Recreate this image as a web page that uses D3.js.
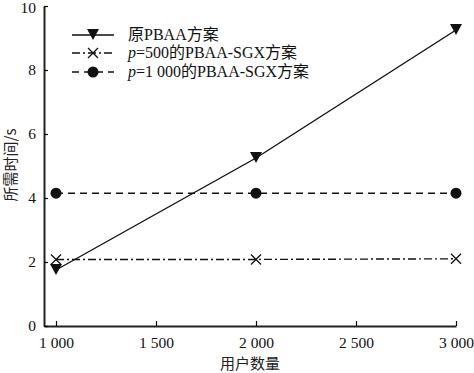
<!DOCTYPE html>
<html><head><meta charset="utf-8">
<script src="https://cdn.jsdelivr.net/npm/d3@7"></script>
<style>body{margin:0;background:#fff}svg{display:block}</style>
</head><body>
<script>
const users = [1000, 2000, 3000];
const seriesNames = ["原PBAA方案", "p=500的PBAA-SGX方案", "p=1 000的PBAA-SGX方案"];
const pbaa = [1.75, 5.25, 9.25];
const sgx500 = [2.08, 2.08, 2.1];
const sgx1000 = [4.15, 4.15, 4.15];
const xTicks = [1000, 1500, 2000, 2500, 3000];
const yTicks = [0, 2, 4, 6, 8, 10];
const xTitle = "用户数量";
const yTitle = "所需时间/s";

const W = 474, H = 373;
const SERIF = '"Liberation Serif", "Noto Sans CJK SC"';
const CJK = '"Noto Sans CJK SC"';
const svg = d3.select("body").append("svg").attr("width", W).attr("height", H);
const x = d3.scaleLinear().domain([940, 3000]).range([44, 456]);
const y = d3.scaleLinear().domain([0, 10]).range([326, 6]);

const fmtX = d => { const s = String(d); return s.length > 3 ? s.slice(0, s.length-3) + " " + s.slice(-3) : s; };

// axes
const gx = svg.append("g").attr("transform", "translate(0,326)")
  .call(d3.axisBottom(x).tickValues(xTicks).tickSizeInner(-5).tickSizeOuter(0).tickFormat(fmtX));
gx.select(".domain").attr("stroke-width", 2);
gx.selectAll(".tick line").attr("stroke-width", 1.2);
gx.selectAll("text").style("font-family", SERIF).style("font-size", "15.5px").attr("fill", "#111").attr("dy", "1.25em");

const gy = svg.append("g").attr("transform", "translate(44,0)")
  .call(d3.axisLeft(y).tickValues(yTicks).tickSizeInner(-4).tickSizeOuter(0));
gy.select(".domain").attr("stroke-width", 2);
gy.selectAll(".tick line").attr("stroke-width", 1.2);
gy.selectAll("text").style("font-family", SERIF).style("font-size", "15.5px").attr("fill", "#111").attr("x", -8);
gy.selectAll(".tick").filter(d => d === 10).select("text").attr("dy", "0.45em");
svg.selectAll(".domain").attr("stroke", "#222");

// titles
svg.append("text").attr("x", 250).attr("y", 369).attr("text-anchor", "middle")
  .style("font-family", CJK).style("font-size", "15px").attr("fill", "#222").text(xTitle);
svg.append("text").attr("transform", "translate(16,165) rotate(-90)").attr("text-anchor", "middle")
  .style("font-family", CJK).style("font-size", "15px").attr("fill", "#222").text(yTitle);

const series = [
  {vals: pbaa, dash: null, marker: "tri"},
  {vals: sgx500, dash: "8,3,2,3", marker: "x"},
  {vals: sgx1000, dash: "7,5", marker: "circle"}
];
const line = d3.line().x((d,i) => x(users[i])).y(d => y(d));
function drawMarker(g, type, cx, cy) {
  if (type === "tri") {
    g.append("path").attr("d", `M${cx-6},${cy-6}L${cx+6},${cy-6}L${cx},${cy+5}Z`).attr("fill", "#111");
  } else if (type === "x") {
    g.append("path").attr("d", `M${cx-5},${cy-5}L${cx+5},${cy+5}M${cx-5},${cy+5}L${cx+5},${cy-5}`)
      .attr("stroke", "#111").attr("stroke-width", 1.3).attr("fill", "none");
  } else {
    g.append("circle").attr("cx", cx).attr("cy", cy).attr("r", 5.5).attr("fill", "#111");
  }
}
series.forEach(s => {
  svg.append("path").datum(s.vals).attr("d", line).attr("fill", "none")
    .attr("stroke", "#111").attr("stroke-width", 1.4).attr("stroke-dasharray", s.dash);
  const g = svg.append("g");
  s.vals.forEach((v,i) => drawMarker(g, s.marker, x(users[i]), y(v)));
});

// legend
const legY = [35, 53, 72];
series.forEach((s, i) => {
  const g = svg.append("g");
  g.append("line").attr("x1", 72).attr("x2", 114).attr("y1", legY[i]).attr("y2", legY[i])
    .attr("stroke", "#111").attr("stroke-width", 1.4).attr("stroke-dasharray", s.dash);
  drawMarker(g, s.marker, 93, legY[i]);
  const t = g.append("text").attr("x", 128).attr("y", legY[i] + 5)
    .style("font-family", SERIF).style("font-size", "16px").attr("fill", "#111");
  const name = seriesNames[i];
  if (name.startsWith("p=")) {
    t.append("tspan").attr("font-style", "italic").text("p");
    t.append("tspan").text(name.slice(1));
  } else t.text(name);
});
</script>
</body></html>
